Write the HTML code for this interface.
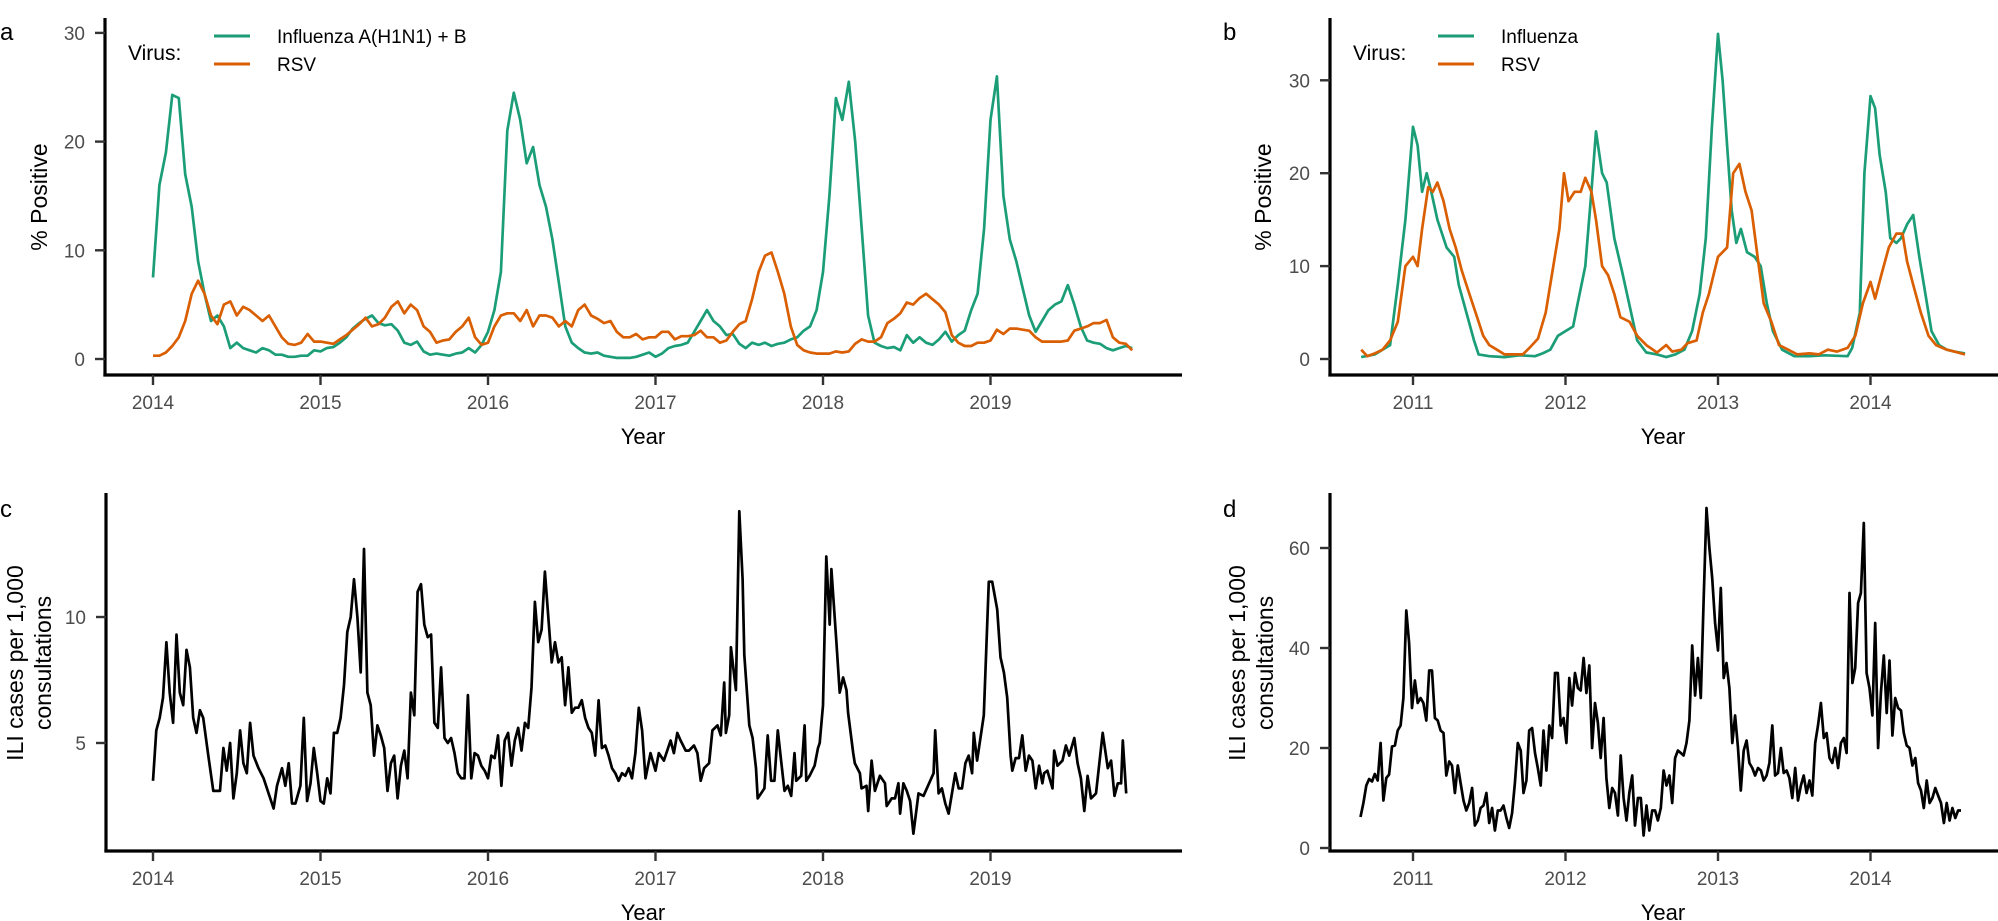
<!DOCTYPE html>
<html><head><meta charset="utf-8"><style>
html,body{margin:0;padding:0;background:#fff;}
svg{display:block;font-family:"Liberation Sans",Arial,sans-serif;}
</style></head><body>
<svg id="fig" width="1998" height="921" viewBox="0 0 1998 921"></svg>
<script>
// ---------- Panel a data (biweekly from 2014.0) ----------
const aStart = 2014, aStep = 1/26;
const aFlu = [7.5,16,19,24.3,24,17,14,9,6,3.5,4,3,1,1.5,1,0.8,0.6,1,0.8,0.4,0.4,0.2,0.2,0.3,0.3,0.8,
0.7,1,1.1,1.5,2,2.8,3.3,3.7,4,3.3,3.1,3.2,2.6,1.5,1.3,1.6,0.7,0.4,0.5,0.4,0.3,0.5,0.6,1.0,0.6,1.3,
2.5,4.5,8,21,24.5,22,18,19.5,16,14,11,7,3,1.5,1,0.6,0.5,0.6,0.3,0.2,0.1,0.1,0.1,0.2,0.4,0.6,
0.2,0.5,1.0,1.2,1.3,1.5,2.5,3.5,4.5,3.5,3.0,2.2,2.3,1.4,1.0,1.5,1.3,1.5,1.2,1.4,1.5,1.8,2.0,2.6,3.0,4.5,
8,15,24,22,25.5,20,12,4,1.5,1.2,1.0,1.1,0.8,2.2,1.5,2.0,1.5,1.3,1.8,2.5,1.6,2.2,2.6,4.5,6,12,
22,26,15,11,9,6.5,4,2.5,3.5,4.5,5,5.3,6.8,5,3,1.7,1.5,1.4,1.0,0.8,1.0,1.2,1.0];
const aRsv = [0.3,0.3,0.6,1.2,2,3.5,6,7.2,6,4,3.2,5,5.3,4,4.8,4.5,4,3.5,4,3,2,1.4,1.3,1.5,2.3,1.6,
1.6,1.5,1.4,1.8,2.2,2.7,3.2,3.8,3,3.2,3.8,4.8,5.3,4.2,5,4.5,3,2.5,1.5,1.7,1.8,2.5,3,3.8,2,1.3,
1.5,3,4,4.2,4.2,3.5,4.5,3,4,4,3.8,3,3.5,3,4.5,5,4,3.7,3.3,3.5,2.5,2,2,2.3,1.8,2,
2,2.5,2.5,1.8,2.1,2.1,2.2,2.6,2,2,1.5,1.7,2.5,3.2,3.5,5.5,8,9.5,9.8,8,6,3,1.3,0.8,0.6,0.5,
0.5,0.5,0.7,0.6,0.7,1.4,1.8,1.6,1.6,2.0,3.3,3.7,4.2,5.2,5.0,5.6,6.0,5.5,5.0,4.3,2.2,1.5,1.2,1.2,1.5,1.5,
1.7,2.7,2.3,2.8,2.8,2.7,2.6,2.0,1.6,1.6,1.6,1.6,1.7,2.6,2.8,3.0,3.3,3.3,3.6,2.0,1.5,1.4,0.8];
const aYTicks = [0,10,20,30];
const acXTicks = [2014,2015,2016,2017,2018,2019];

// ---------- Panel b data ----------
const bFluDates = [2010.66,2010.75,2010.85,2010.9,2010.95,2011.0,2011.03,2011.06,2011.09,2011.12,2011.16,2011.22,2011.27,2011.3,2011.35,2011.4,2011.43,2011.5,2011.6,2011.7,2011.8,2011.85,2011.9,2011.95,2012.0,2012.05,2012.08,2012.13,2012.17,2012.2,2012.24,2012.27,2012.32,2012.37,2012.43,2012.47,2012.53,2012.6,2012.66,2012.72,2012.78,2012.83,2012.88,2012.92,2012.96,2013.0,2013.03,2013.06,2013.09,2013.12,2013.15,2013.19,2013.24,2013.28,2013.32,2013.36,2013.42,2013.5,2013.6,2013.7,2013.85,2013.88,2013.93,2013.96,2014.0,2014.03,2014.06,2014.1,2014.13,2014.17,2014.2,2014.24,2014.28,2014.32,2014.36,2014.4,2014.45,2014.5,2014.55,2014.62];
const bFlu = [0.2,0.5,1.5,8,15,25,23,18,20,18,15,12,11,8,5,2,0.5,0.3,0.2,0.4,0.3,0.6,1,2.5,3,3.5,6,10,18,24.5,20,19,13,9.5,5,2,0.7,0.5,0.2,0.5,1.0,3,7,13,25,35,30,23,16,12.5,14,11.5,11,10,6,3,1,0.3,0.3,0.4,0.3,1.2,5,20,28.3,27,22,18,13,12.5,13,14.5,15.5,11,7,3,1.5,1,0.8,0.6];
const bRsvDates = [2010.66,2010.7,2010.75,2010.8,2010.85,2010.9,2010.95,2011.0,2011.03,2011.06,2011.1,2011.13,2011.16,2011.2,2011.24,2011.28,2011.32,2011.37,2011.42,2011.46,2011.5,2011.55,2011.6,2011.66,2011.72,2011.77,2011.82,2011.87,2011.92,2011.96,2011.99,2012.02,2012.06,2012.1,2012.13,2012.17,2012.2,2012.24,2012.28,2012.32,2012.36,2012.42,2012.47,2012.53,2012.6,2012.66,2012.7,2012.76,2012.8,2012.86,2012.9,2012.94,2012.97,2013.0,2013.06,2013.1,2013.14,2013.18,2013.22,2013.26,2013.3,2013.35,2013.4,2013.46,2013.52,2013.6,2013.66,2013.72,2013.78,2013.85,2013.9,2013.95,2014.0,2014.03,2014.07,2014.12,2014.17,2014.21,2014.24,2014.28,2014.33,2014.38,2014.43,2014.5,2014.55,2014.62];
const bRsv = [1,0.3,0.6,1,2,4,10,11,10,14,18.5,18,19,17,14,12,9.5,7,4.5,2.5,1.5,1,0.5,0.5,0.5,1.3,2.2,5,10,14,20,17,18,18,19.5,18,15,10,9,7,4.5,4,2.5,1.5,0.7,1.5,0.8,1,1.7,2,5,7,9,11,12,20,21,18,16,11,6,4,1.5,1,0.5,0.6,0.5,1,0.8,1.2,2.5,6,8.3,6.5,9,12,13.5,13.5,10.5,8,5,2.5,1.5,1,0.8,0.5];
const bYTicks = [0,10,20,30];
const bdXTicks = [2011,2012,2013,2014];

// ---------- Panel c data ----------
const cDates = [2014.0,2014.02,2014.04,2014.06,2014.08,2014.1,2014.12,2014.14,2014.16,2014.18,2014.2,2014.22,2014.24,2014.26,2014.28,2014.3,2014.33,2014.36,2014.38,2014.4,2014.42,2014.44,2014.46,2014.48,2014.5,2014.52,2014.54,2014.56,2014.58,2014.6,2014.63,2014.66,2014.69,2014.72,2014.74,2014.77,2014.79,2014.81,2014.83,2014.85,2014.88,2014.9,2014.92,2014.94,2014.96,2014.98,2015.0,2015.02,2015.04,2015.06,2015.08,2015.1,2015.12,2015.14,2015.16,2015.18,2015.2,2015.22,2015.24,2015.26,2015.28,2015.3,2015.32,2015.34,2015.36,2015.38,2015.4,2015.42,2015.44,2015.46,2015.48,2015.5,2015.52,2015.54,2015.56,2015.58,2015.6,2015.62,2015.64,2015.66,2015.68,2015.7,2015.72,2015.74,2015.76,2015.78,2015.8,2015.82,2015.84,2015.86,2015.88,2015.9,2015.92,2015.94,2015.96,2015.98,2016.0,2016.02,2016.04,2016.06,2016.08,2016.1,2016.12,2016.14,2016.16,2016.18,2016.2,2016.22,2016.24,2016.26,2016.28,2016.3,2016.32,2016.34,2016.36,2016.38,2016.4,2016.42,2016.44,2016.46,2016.48,2016.5,2016.52,2016.54,2016.56,2016.58,2016.6,2016.62,2016.64,2016.66,2016.68,2016.7,2016.72,2016.74,2016.76,2016.78,2016.8,2016.82,2016.84,2016.86,2016.88,2016.9,2016.92,2016.94,2016.97,2017.0,2017.02,2017.05,2017.09,2017.11,2017.13,2017.15,2017.18,2017.2,2017.23,2017.25,2017.27,2017.29,2017.32,2017.34,2017.37,2017.39,2017.41,2017.42,2017.44,2017.45,2017.48,2017.5,2017.52,2017.53,2017.56,2017.58,2017.6,2017.61,2017.65,2017.67,2017.69,2017.71,2017.73,2017.75,2017.77,2017.79,2017.81,2017.83,2017.84,2017.87,2017.89,2017.9,2017.92,2017.95,2017.97,2017.98,2018.0,2018.02,2018.04,2018.05,2018.08,2018.1,2018.12,2018.14,2018.15,2018.18,2018.19,2018.22,2018.23,2018.26,2018.27,2018.29,2018.31,2018.34,2018.37,2018.38,2018.41,2018.43,2018.45,2018.46,2018.48,2018.5,2018.52,2018.54,2018.57,2018.6,2018.62,2018.66,2018.67,2018.69,2018.71,2018.73,2018.75,2018.79,2018.81,2018.83,2018.85,2018.87,2018.89,2018.9,2018.92,2018.96,2018.99,2019.01,2019.04,2019.06,2019.08,2019.1,2019.12,2019.13,2019.15,2019.17,2019.19,2019.21,2019.23,2019.25,2019.27,2019.29,2019.31,2019.32,2019.34,2019.37,2019.38,2019.4,2019.43,2019.45,2019.47,2019.5,2019.52,2019.54,2019.56,2019.58,2019.6,2019.63,2019.67,2019.7,2019.72,2019.74,2019.76,2019.78,2019.79,2019.81,2019.85];
const cIli = [3.5,5.5,6,6.8,9,7,5.8,9.3,7,6.5,8.7,8,6,5.4,6.3,6,4.5,3.1,3.1,3.1,4.8,3.9,5,2.8,3.8,5.5,4.2,3.8,5.8,4.5,4,3.6,3,2.4,3.3,4,3.3,4.2,2.6,2.6,3.3,6,2.7,3.4,4.8,3.8,2.7,2.6,3.6,3,5.4,5.4,6,7.3,9.4,10,11.5,10,7.8,12.7,7,6.5,4.5,5.7,5.3,4.8,3.1,4.2,4.5,2.8,4.1,4.7,3.6,7,6.1,11,11.3,9.7,9.2,9.3,5.8,5.6,8,5.2,5,5.2,4.6,3.8,3.6,3.6,6.9,3.6,4.6,4.5,4.1,3.9,3.6,4.5,4.4,5.3,3.3,5.1,5.4,4.1,5.1,5.6,4.7,5.8,5.6,7.2,10.6,9,9.5,11.8,10,8.2,9,8.2,8.4,6.5,8,6.2,6.4,6.4,6.7,6,5.6,5.4,4.5,6.7,4.8,4.9,4.5,4,3.8,3.5,3.8,3.7,4.0,3.6,4.6,6.4,5.5,3.6,4.6,3.9,4.6,4.3,5.1,4.6,5.4,5.1,4.7,4.7,4.9,4.6,3.5,4.0,4.2,5.5,5.7,5.3,7.4,5.4,6.1,8.8,7.1,14.2,11.5,8.5,5.7,5.2,4.0,2.8,3.2,5.3,3.5,3.5,5.5,4.3,3.1,3.3,2.9,4.6,3.5,3.7,5.7,3.5,3.7,4.1,4.8,5.0,6.5,12.4,9.7,11.9,9,7.0,7.6,7.1,6.2,4.6,4.2,3.8,3.2,3.3,2.3,4.3,3.1,3.7,3.4,2.5,2.8,2.8,3.4,2.2,3.4,3.1,2.7,1.4,3.0,2.9,3.2,3.8,5.5,3.0,3.2,2.6,2.2,3.8,3.2,3.2,4.2,4.5,3.8,5.4,4.3,6.1,11.4,11.4,10.3,8.4,7.8,6.8,4.5,3.9,4.4,4.4,5.3,3.9,4.5,4.3,3.2,4.1,3.4,3.8,3.9,3.2,4.7,4.1,4.3,4.9,4.5,5.2,4.2,3.6,2.3,3.7,2.8,3.0,5.4,4.0,4.3,2.9,3.4,3.4,5.1,3.0];
const cYTicks = [5,10];

// ---------- Panel d data (weekly from 2010.656) ----------
const dStart = 2010.656, dStep = 6/320;
const dIli = [6.2,9,12.5,13.8,13.3,14.8,13.5,21,9.5,14,14.7,20.3,20.5,23.5,24.5,30,47.5,41,28,33.5,29,30,29,25.5,35.5,35.5,26,25.5,23.5,23,14.5,17.3,16.5,11,16.5,13,9.5,7.5,9,12,4.5,5.5,8,8.5,11,5,8,3.5,7.5,7.5,8.5,6,4,7,13,21,19.5,11,13.5,23.5,24,19,16,12.5,23.5,15.5,24.5,22,35,35,24.5,26,21,34,28.5,35,32,31.5,38,31,36.5,20,29,25,18,26,14,8,12,11,6.5,18.5,10,5.5,11,14.5,4.5,10,10,2.5,8.5,3.5,7.5,7.5,5.5,8,15.5,12.5,14.5,9,18,19.5,19,18.5,21,25.5,40.5,30.5,38,30,50,68,60,54,45,39.5,52,34,37,32,21,26.5,20,11.5,19.5,21.5,17,16,14.5,16,15.5,13.5,14.5,17,24.5,14.5,15,20,15,15.5,14,10,16,9.5,12.5,14.5,11,13.5,10.5,21,24.5,29,22,23,18,17,20,16,21,22,19,51,33,36,49,51,65,35,32,26.5,45,20,31,38.5,27,37.5,22.5,30,28,27.5,23,20.5,20,16.5,18,13,11.5,8,13.5,9,10,12,10.5,9,5,9,5.5,8,6,7.5,7.5];
const dYTicks = [0,20,40,60];

const NS = "http://www.w3.org/2000/svg";
const svg = document.getElementById('fig');
function mk(tag, attrs, parent){ const e=document.createElementNS(NS,tag); for(const k in attrs) e.setAttribute(k,attrs[k]); (parent||svg).appendChild(e); return e; }
function txt(s, attrs, parent){ const e=mk('text',attrs,parent); e.textContent=s; return e; }

function panel(p){
  const g = mk('g',{});
  
  
  const L = txt(p.letter,{x:p.lx,y:p.ly,'font-size':24,fill:'#000'},g);
  
  
  const ya = mk('line',{x1:p.x0,y1:p.top,x2:p.x0,y2:p.base+1.5,stroke:'#000','stroke-width':3.2},g);
  
  
  const xa = mk('line',{x1:p.x0-1.6,y1:p.base,x2:p.x1,y2:p.base,stroke:'#000','stroke-width':3.2},g);
  
  
  p.yTicks.forEach(v=>{
    const y=p.ys(v);
    const t=mk('line',{x1:p.x0-10,y1:y,x2:p.x0,y2:y,stroke:'#333','stroke-width':2.4},g);
    
    
    const l=txt(String(v),{x:p.x0-20,y:y+7,'font-size':19,fill:'#4d4d4d','text-anchor':'end'},g);
    
    
  });
  p.xTicks.forEach(v=>{
    const x=p.xs(v);
    const t=mk('line',{x1:x,y1:p.base,x2:x,y2:p.base+10,stroke:'#333','stroke-width':2.4},g);
    
    
    const l=txt(String(v),{x:x,y:p.base+34,'font-size':19,fill:'#4d4d4d','text-anchor':'middle'},g);
    
    
  });
  const xt=txt('Year',{x:p.xTitleX,y:p.base+69,'font-size':22,fill:'#000','text-anchor':'middle'},g);
  
  
  const yt=mk('text',{transform:'translate('+p.yTitleX+','+p.yTitleY+') rotate(-90)','font-size':23,fill:'#000','text-anchor':'middle'},g);
  
  
  p.yTitle.forEach((s,i)=>{ const ts=mk('tspan',{x:0,dy:i===0?0:28},yt); ts.textContent=s; });
  p.series.forEach(s=>{
    let d='';
    s.vals.forEach((v,i)=>{ const x=p.xs(s.dates(i)), y=p.ys(v); d+=(i?'L':'M')+x.toFixed(1)+','+y.toFixed(1); });
    const path=mk('path',{d:d,fill:'none',stroke:s.color,'stroke-width':2.7,'stroke-linejoin':'round'},g);
    
    
  });
  if(p.legend){
    const lg=mk('g',{},g);
    
    
    txt('Virus:',{x:p.legend.x,y:60,'font-size':21,fill:'#000'},lg);
    p.legend.items.forEach((it,i)=>{
      const y=36+i*28;
      const k=mk('line',{x1:p.legend.kx,y1:y,x2:p.legend.kx+36,y2:y,stroke:it.color,'stroke-width':3},lg);
      
      
      const t=txt(it.label,{x:p.legend.tx,y:y+7,'font-size':19,fill:'#000'},lg);
      
      
    });
  }
}
const green='#1b9e77', orange='#d95f02';
const xsA = t=>153+(t-2014)*167.5;
const xsB = t=>1413+(t-2011)*152.5;

panel({name:'panel-a',letter:'a',lx:0,ly:40,x0:105,x1:1182,top:18,base:375,
  xs:xsA, ys:v=>359-v*10.87, yTicks:aYTicks, xTicks:acXTicks, xTitleX:643,
  yTitle:['% Positive'], yTitleX:47, yTitleY:197,
  series:[{name:'influenza-line',color:green,vals:aFlu,dates:i=>aStart+i*aStep},
          {name:'rsv-line',color:orange,vals:aRsv,dates:i=>aStart+i*aStep}],
  legend:{x:128,kx:214,tx:277,items:[{color:green,label:'Influenza A(H1N1) + B'},{color:orange,label:'RSV'}]}});
panel({name:'panel-b',letter:'b',lx:1223,ly:40,x0:1330,x1:1998,top:18,base:375,
  xs:xsB, ys:v=>359-v*9.29, yTicks:bYTicks, xTicks:bdXTicks, xTitleX:1663,
  yTitle:['% Positive'], yTitleX:1271, yTitleY:197,
  series:[{name:'influenza-line',color:green,vals:bFlu,dates:i=>bFluDates[i]},
          {name:'rsv-line',color:orange,vals:bRsv,dates:i=>bRsvDates[i]}],
  legend:{x:1353,kx:1438,tx:1501,items:[{color:green,label:'Influenza'},{color:orange,label:'RSV'}]}});
panel({name:'panel-c',letter:'c',lx:0,ly:517,x0:106,x1:1182,top:493,base:851,
  xs:xsA, ys:v=>743-(v-5)*25.2, yTicks:cYTicks, xTicks:acXTicks, xTitleX:643,
  yTitle:['ILI cases per 1,000','consultations'], yTitleX:23, yTitleY:663,
  series:[{name:'ili-line',color:'#000',vals:cIli,dates:i=>cDates[i]}]});
panel({name:'panel-d',letter:'d',lx:1223,ly:517,x0:1330,x1:1998,top:493,base:851,
  xs:xsB, ys:v=>848-v*5.0, yTicks:dYTicks, xTicks:bdXTicks, xTitleX:1663,
  yTitle:['ILI cases per 1,000','consultations'], yTitleX:1245, yTitleY:663,
  series:[{name:'ili-line',color:'#000',vals:dIli,dates:i=>dStart+i*dStep}]});
</script>
</body></html>
